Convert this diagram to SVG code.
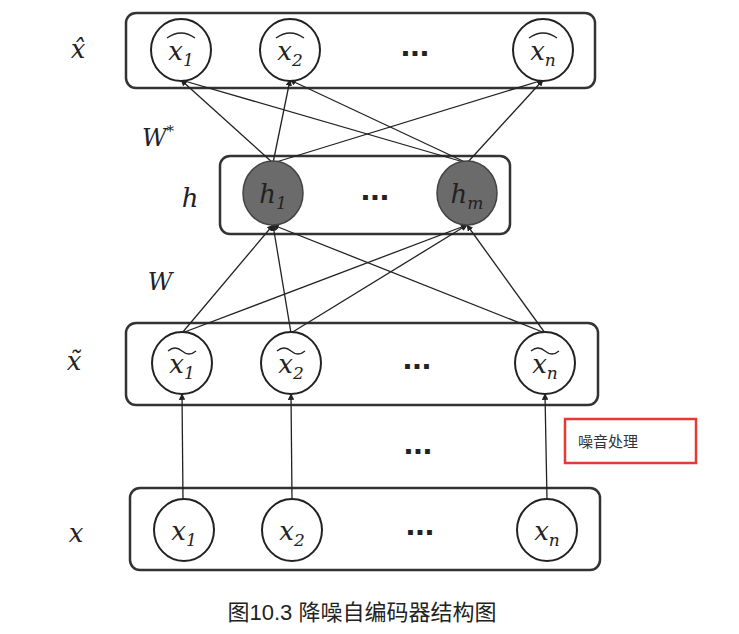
<svg xmlns="http://www.w3.org/2000/svg" width="739" height="634" viewBox="0 0 739 634">
<style>
.box{fill:none;stroke:#333;stroke-width:2.5}
.n{fill:#fff;stroke:#222;stroke-width:2}
.h{fill:#6b6b6b;stroke:#444;stroke-width:1.5}
.t{font-family:"DejaVu Serif","Liberation Serif",serif;font-style:italic;font-size:26px;fill:#222;text-anchor:middle}
.s{font-size:17px}
.d{font-family:"Liberation Sans",sans-serif;font-size:34px;font-weight:bold;fill:#222;text-anchor:middle}
.c line{stroke:#222;stroke-width:1.3}
</style>
<defs><marker id="a" viewBox="0 0 10 10" refX="9" refY="5" markerWidth="5" markerHeight="5" orient="auto"><path d="M0,0L10,5L0,10z" fill="#222"/></marker></defs>
<rect width="739" height="634" fill="#fff"/>
<g id="layer-xhat">
<rect class="box" x="126" y="13" width="469" height="75" rx="10"/>
<text class="t" x="78" y="58">x̂</text>
</g>
<g id="layer-h"><rect class="box" x="220" y="156" width="290" height="78" rx="10"/><text class="t" x="190" y="207">h</text></g>
<g id="layer-xtilde"><rect class="box" x="126" y="323" width="472" height="82" rx="10"/><text class="t" x="74" y="370">x̃</text></g>
<g id="layer-x"><rect class="box" x="130" y="488" width="470" height="82" rx="10"/><text class="t" x="76" y="542">x</text></g>
<text class="t" x="158" y="146" style="font-size:24px">W<tspan font-size="15" dy="-10">*</tspan></text>
<text class="t" x="160" y="290" style="font-size:24px">W</text>
<g class="c">
<line x1="273" y1="163" x2="181" y2="80" marker-end="url(#a)"/>
<line x1="273" y1="163" x2="290" y2="80" marker-end="url(#a)"/>
<line x1="273" y1="163" x2="543" y2="80" marker-end="url(#a)"/>
<line x1="467" y1="163" x2="181" y2="80" marker-end="url(#a)"/>
<line x1="467" y1="163" x2="290" y2="80" marker-end="url(#a)"/>
<line x1="467" y1="163" x2="543" y2="80" marker-end="url(#a)"/>
<line x1="182" y1="333" x2="273" y2="225" marker-end="url(#a)"/>
<line x1="291" y1="333" x2="273" y2="225" marker-end="url(#a)"/>
<line x1="545" y1="333" x2="273" y2="225" marker-end="url(#a)"/>
<line x1="182" y1="333" x2="467" y2="225" marker-end="url(#a)"/>
<line x1="291" y1="333" x2="467" y2="225" marker-end="url(#a)"/>
<line x1="545" y1="333" x2="467" y2="225" marker-end="url(#a)"/>
<line x1="183" y1="500" x2="182" y2="394" marker-end="url(#a)"/>
<line x1="292" y1="500" x2="291" y2="394" marker-end="url(#a)"/>
<line x1="547" y1="500" x2="545" y2="394" marker-end="url(#a)"/>
</g>
<g id="n-xh1"><ellipse class="n" cx="181" cy="50" rx="30" ry="31"/><text class="t" x="181" y="60">x<tspan class="s" dy="6">1</tspan></text><path d="M167,38 Q181,28 195,38" fill="none" stroke="#222" stroke-width="1.3"/></g>
<g id="n-xh2"><ellipse class="n" cx="290" cy="50" rx="30" ry="31"/><text class="t" x="290" y="60">x<tspan class="s" dy="6">2</tspan></text><path d="M276,38 Q290,28 304,38" fill="none" stroke="#222" stroke-width="1.3"/></g>
<g id="n-xhn"><ellipse class="n" cx="543" cy="50" rx="30" ry="31"/><text class="t" x="543" y="60">x<tspan class="s" dy="6">n</tspan></text><path d="M529,38 Q543,28 557,38" fill="none" stroke="#222" stroke-width="1.3"/></g>
<text class="d" x="415" y="56">...</text>
<g id="n-h1"><ellipse class="h" cx="273" cy="193" rx="30" ry="32"/><text class="t" x="273" y="203">h<tspan class="s" dy="6">1</tspan></text></g>
<g id="n-hm"><ellipse class="h" cx="467" cy="193" rx="30" ry="32"/><text class="t" x="467" y="203">h<tspan class="s" dy="6">m</tspan></text></g>
<text class="d" x="375" y="200">...</text>
<g id="n-xt1"><ellipse class="n" cx="182" cy="363" rx="30" ry="31"/><text class="t" x="182" y="373">x<tspan class="s" dy="6">1</tspan></text><path d="M168,351 q7,-6 14,0 t14,0" fill="none" stroke="#222" stroke-width="1.3"/></g>
<g id="n-xt2"><ellipse class="n" cx="291" cy="363" rx="30" ry="31"/><text class="t" x="291" y="373">x<tspan class="s" dy="6">2</tspan></text><path d="M277,351 q7,-6 14,0 t14,0" fill="none" stroke="#222" stroke-width="1.3"/></g>
<g id="n-xtn"><ellipse class="n" cx="545" cy="363" rx="30" ry="31"/><text class="t" x="545" y="373">x<tspan class="s" dy="6">n</tspan></text><path d="M531,351 q7,-6 14,0 t14,0" fill="none" stroke="#222" stroke-width="1.3"/></g>
<text class="d" x="417" y="369">...</text>
<text class="d" x="418" y="454">...</text>
<g id="n-x1"><ellipse class="n" cx="184" cy="530" rx="30" ry="31"/><text class="t" x="184" y="540">x<tspan class="s" dy="6">1</tspan></text></g>
<g id="n-x2"><ellipse class="n" cx="292" cy="530" rx="30" ry="31"/><text class="t" x="292" y="540">x<tspan class="s" dy="6">2</tspan></text></g>
<g id="n-xn"><ellipse class="n" cx="547" cy="530" rx="30" ry="31"/><text class="t" x="547" y="540">x<tspan class="s" dy="6">n</tspan></text></g>
<text class="d" x="420" y="535">...</text>
<g id="noise"><rect x="565" y="419" width="131" height="44" fill="none" stroke="#e53935" stroke-width="2.5"/>
<text x="578" y="447" font-family="'Noto Sans CJK SC',serif" font-size="15" fill="#333">噪音处理</text></g>
<text x="362" y="620" font-family="'Liberation Sans','Noto Sans CJK SC',sans-serif" font-size="22" fill="#222" text-anchor="middle">图10.3   降噪自编码器结构图</text>
</svg>
